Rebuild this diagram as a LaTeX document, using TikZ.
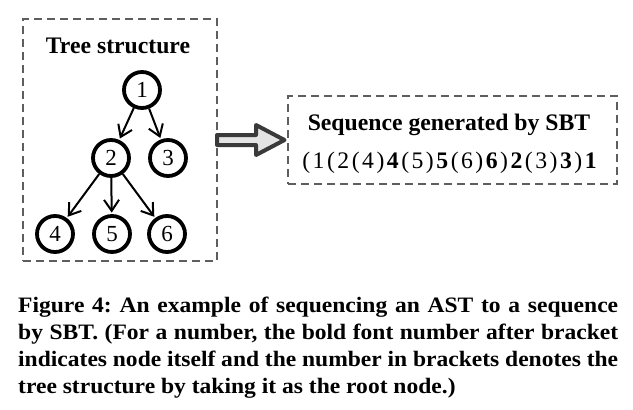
\documentclass[tikz,border=0pt]{standalone}
\usepackage{fontspec}
\setmainfont{Liberation Serif}
\newfontfamily\capfont[FakeStretch=1.07]{Liberation Serif}
\usetikzlibrary{arrows.meta,calc}
\definecolor{dashgray}{HTML}{5E5E5E}
\definecolor{arrowline}{HTML}{3A3A3A}
\definecolor{arrowfill}{HTML}{E4E4E4}
\newcommand{\myk}{\kern2.5pt}
\frenchspacing
\begin{document}
\begin{tikzpicture}[x=1pt,y=-1pt,
  dbox/.style={draw=dashgray, line width=2pt, dash pattern=on 8pt off 5pt, inner sep=0pt},
  treenode/.style={circle, draw=black, line width=3.8pt, minimum size=36pt, inner sep=0pt,
    font=\fontsize{23}{26}\selectfont},
  edge/.style={line width=2pt, -{Straight Barb[length=11pt,width=15pt]}, shorten >=1.5pt, shorten <=0pt},
  titletext/.style={anchor=base, font=\fontsize{23.7}{28}\selectfont\bfseries, inner sep=0pt},
  seqtext/.style={anchor=base, font=\fontsize{23.7}{28}\selectfont, inner sep=0pt},
  captext/.style={anchor=base west, font=\capfont\fontsize{22}{27}\selectfont\bfseries, inner sep=0pt},
  blockarrow/.style={draw=arrowline, fill=arrowfill, line width=4pt, line join=round}
]
\useasboundingbox (0,0) rectangle (633,410);

% boxes
\node[dbox, minimum width=194pt, minimum height=242pt] (treebox) at (120,140) {};
\node[dbox, minimum width=329pt, minimum height=88pt] (seqbox) at (452.5,140) {};

% titles
\node[titletext] (treetitle) at (118,53) {Tree structure};
\node[titletext] (seqtitle) at (449,130) {Sequence generated by SBT};
\node[seqtext] (seq) at (449.5,168) {(\myk1\myk(\myk2\myk(\myk4\myk)\myk\textbf{4}\myk(\myk5\myk)\myk\textbf{5}\myk(\myk6\myk)\myk\textbf{6}\myk)\myk\textbf{2}\myk(\myk3\myk)\myk\textbf{3}\myk)\myk\textbf{1}};

% tree nodes
\node[treenode] (n1) at (142,90) {1};
\node[treenode] (n2) at (111,158) {2};
\node[treenode] (n3) at (168,158) {3};
\node[treenode] (n4) at (55,234) {4};
\node[treenode] (n5) at (112,234) {5};
\node[treenode] (n6) at (167,234) {6};

\draw[edge] (n1) -- (n2);
\draw[edge] (n1) -- (n3);
\draw[edge] (n2) -- (n4);
\draw[edge] (n2) -- (n5);
\draw[edge] (n2) -- (n6);

% block arrow from tree box to sequence box
\draw[blockarrow]
  ($(treebox.east)+(-1,-5)$) -- ($(seqbox.west)+(-31,-5)$) -- ($(seqbox.west)+(-31,-15)$)
  -- ($(seqbox.west)+(-2.5,0)$)
  -- ($(seqbox.west)+(-31,15)$) -- ($(seqbox.west)+(-31,5)$) -- ($(treebox.east)+(-1,5)$) -- cycle;

% caption
\node[captext] (cap1) at (18,312) {\makebox[600pt][s]{Figure 4: An example of sequencing an AST to a sequence}};
\node[captext] (cap2) at (18,339.5) {\makebox[600pt][s]{by SBT. (For a number, the bold font number after bracket}};
\node[captext] (cap3) at (18,366) {\makebox[600pt][s]{indicates node itself and the number in brackets denotes the}};
\node[captext] (cap4) at (18,393) {tree structure by taking it as the root node.)};
\end{tikzpicture}
\end{document}
